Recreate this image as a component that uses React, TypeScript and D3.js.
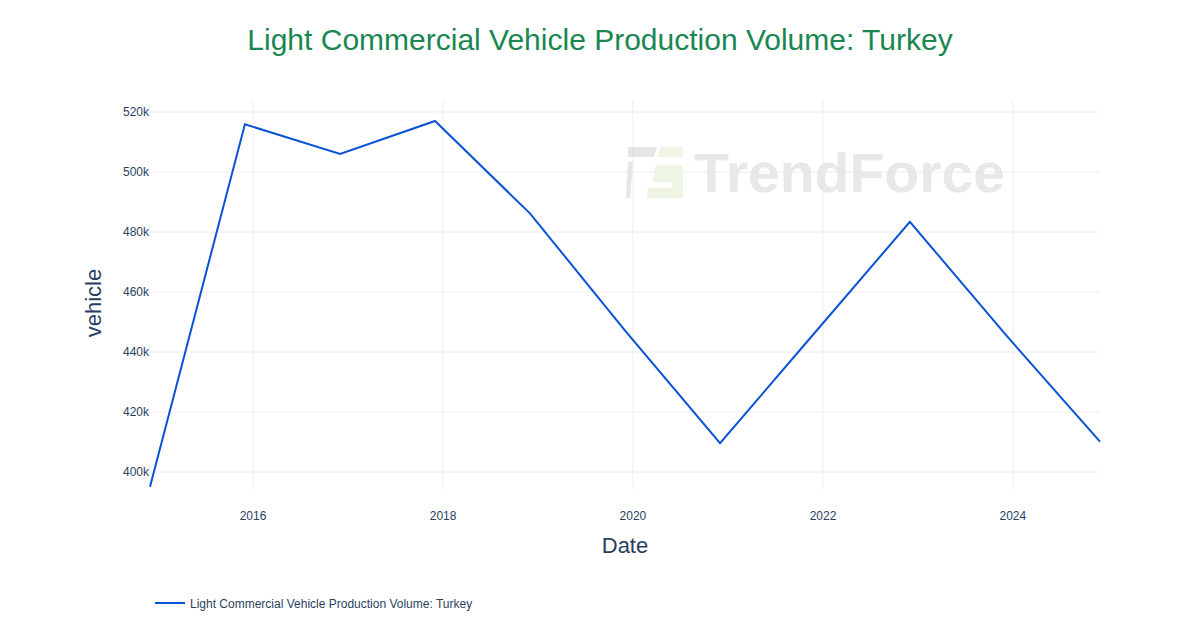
import React from "react";
import * as d3 from "d3";

const years = [2014, 2015, 2016, 2017, 2018, 2019, 2020, 2021, 2022, 2023, 2024];
const values = [395100, 515900, 506000, 517000, 486200, 447200, 409600, 446500, 483400, 446100, 410100];
const yTicks = [400000, 420000, 440000, 460000, 480000, 500000, 520000];
const xTickYears = [2016, 2018, 2020, 2022, 2024];
const seriesName = "Light Commercial Vehicle Production Volume: Turkey";

const W = 1200, H = 630;
const L = 150, R = 1100, T = 100, B = 490;
const FONT = '"Liberation Sans", Arial, sans-serif';

export default function App() {
  const dates = years.map((y) => new Date(y, 11, 1));
  const x = d3.scaleTime().domain([dates[0], dates[dates.length - 1]]).range([L, R]);
  const y = d3.scaleLinear().domain([400000, 520000]).range([472, 112]);
  const line = d3.line<number>().x((_, i) => x(dates[i])).y((d) => y(d));
  const fmt = (v: number) => `${Math.round(v / 1000)}k`;

  return (
    <svg width={W} height={H} style={{ position: "absolute", left: 0, top: 0, background: "#fff" }} fontFamily={FONT}>
      <rect width={W} height={H} fill="#fff" />
      <text x={600} y={50} textAnchor="middle" fontSize={30} fill="#1a8751">
        Light Commercial Vehicle Production Volume: Turkey
      </text>
      {yTicks.map((t) => (
        <g key={t}>
          <line x1={L} x2={R} y1={y(t)} y2={y(t)} stroke="#eeeeee" strokeWidth={1} />
          <text x={149} y={y(t) + 4} textAnchor="end" fontSize={12} fill="#2a3f5f">{fmt(t)}</text>
        </g>
      ))}
      {xTickYears.map((yr) => {
        const xv = x(new Date(yr, 0, 1));
        return (
          <g key={yr}>
            <line x1={xv} x2={xv} y1={T} y2={B} stroke="#eeeeee" strokeWidth={1} />
            <text x={xv} y={520} textAnchor="middle" fontSize={12} fill="#2a3f5f">{yr}</text>
          </g>
        );
      })}
      {/* watermark */}
      <g opacity={0.9}>
        <path d="M628,147 L657,147 L654,157 L628,157 Z" fill="#e3e3e3" />
        <path d="M628,162 L633,162 L630,198 L626,198 Z" fill="#e3e3e3" />
        <path d="M660,147 L683,147 L683,157 L658,157 Z" fill="#eef5e2" />
        <path d="M656,165 L683,165 L683,198 L646,198 L648,188 L672,188 L672,182 L652,182 Z" fill="#eef5e2" />
        <text x={694} y={192} fontSize={55} fontWeight="bold" fill="#e6e6e6" fontFamily={FONT} textLength={311} lengthAdjust="spacingAndGlyphs">TrendForce</text>
      </g>
      <path d={line(values) || ""} fill="none" stroke="#0a52d6" strokeWidth={2} />
      <text transform="translate(101,303) rotate(-90)" textAnchor="middle" fontSize={22} fill="#2a3f5f">vehicle</text>
      <text x={625} y={553} textAnchor="middle" fontSize={22} fill="#2a3f5f">Date</text>
      <line x1={155} x2={185} y1={603} y2={603} stroke="#0a52d6" strokeWidth={2} />
      <text x={190} y={608} fontSize={12} fill="#2a3f5f">{seriesName}</text>
    </svg>
  );
}
